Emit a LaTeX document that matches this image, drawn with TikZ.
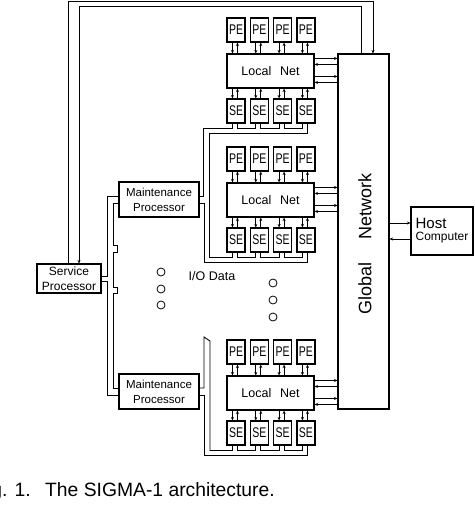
\documentclass[tikz,border=0pt]{standalone}
\usepackage{fontspec}
\setmainfont{Liberation Sans}
\newfontfamily\condfont[FakeStretch=0.75]{Liberation Sans}
\usetikzlibrary{arrows.meta,calc}
\begin{document}
\begin{tikzpicture}[x=1pt,y=-1pt,
  box/.style={draw, line width=1.1pt, inner sep=0pt},
  unit/.style={box, minimum width=18pt, minimum height=24pt, font=\condfont\fontsize{14}{14}\selectfont},
  lnet/.style={box, minimum width=87pt, minimum height=34pt, font=\fontsize{12.5}{12.5}\selectfont},
  proc/.style={box, align=center, font=\fontsize{11.5}{15}\selectfont},
  wire/.style={line width=0.85pt},
  arr/.style={wire, -{Stealth[length=3.5pt,width=3pt]}},
  dot/.style={circle, draw, line width=0.8pt, minimum size=8pt, inner sep=0pt}]
\useasboundingbox (0,0) rectangle (474,516);
\clip (0,0) rectangle (474,516);

% global network and host
\node[box, minimum width=51pt, minimum height=355pt] (gn) at (363.5,231.5) {};
\node[rotate=90, font=\fontsize{18}{18}\selectfont] (gntext) at (365,243.5) {Global\hspace{23pt}Network};
\node[box, minimum width=62pt, minimum height=48pt, align=left] (host) at (442,231)
  {{\fontsize{15}{17}\selectfont Host}\\{\fontsize{12}{14}\selectfont Computer}};
\draw[arr] ([yshift=8pt]host.west -| gn.east) -- ([yshift=8pt]host.west);
\draw[arr] ([yshift=-8pt]host.west) -- ([yshift=-8pt]host.west -| gn.east);

% processors
\node[proc, minimum width=80pt, minimum height=35pt] (mp1) at (159,199.5) {Maintenance\\Processor};
\node[proc, minimum width=80pt, minimum height=35pt] (mp2) at (159,391.5) {Maintenance\\Processor};
\node[proc, minimum width=64pt, minimum height=29pt, font=\fontsize{12}{15}\selectfont] (sp) at (69,278.5) {Service\\Processor};

% clusters
\foreach \c/\yp in {1/18, 2/147, 3/340} {
  \foreach \i in {1,...,4} {
    \pgfmathsetmacro\xl{227+23.33*(\i-1)}
    \node[unit] (pe\c\i) at (\xl+9, \yp+12) {PE};
    \node[unit] (se\c\i) at (\xl+9, \yp+93) {SE};
  }
  \node[lnet] (ln\c) at (270.5, \yp+53) {Local\hspace{0.7em}Net};
  \foreach \i in {1,...,4} {
    \draw[arr] ([xshift=6pt]pe\c\i.south west) -- ([xshift=6pt]pe\c\i.south west |- ln\c.north);
    \draw[arr] ([xshift=11pt]pe\c\i.south west |- ln\c.north) -- ([xshift=11pt]pe\c\i.south west);
    \draw[arr] ([xshift=6pt]se\c\i.north west |- ln\c.south) -- ([xshift=6pt]se\c\i.north west);
    \draw[arr] ([xshift=11pt]se\c\i.north west) -- ([xshift=11pt]se\c\i.north west |- ln\c.south);
  }
  \foreach \i/\j in {1/2, 2/3, 3/4} {
    \draw[wire] ([xshift=11pt]se\c\i.south west) -- ++(0,5) -| ([xshift=6pt]se\c\j.south west);
  }
  \draw[arr] ([yshift=-5pt]ln\c.north east) -- ([yshift=-5pt]ln\c.north east -| gn.west);
  \draw[arr] ([yshift=-11pt]ln\c.north east -| gn.west) -- ([yshift=-11pt]ln\c.north east);
  \draw[arr] ([yshift=-23pt]ln\c.north east) -- ([yshift=-23pt]ln\c.north east -| gn.west);
  \draw[arr] ([yshift=-29pt]ln\c.north east -| gn.west) -- ([yshift=-29pt]ln\c.north east);
}

% maintenance scan loops
\coordinate (c1in) at ([xshift=6pt]se11.south west);
\coordinate (c2in) at ([xshift=6pt]se21.south west);
\coordinate (c3in) at ([xshift=6pt]se31.south west);
\draw[wire] ([yshift=3.5pt]mp1.east) -| ($(c1in)+(-29,5)$) -| (c1in);
\draw[wire] ([xshift=11pt]se14.south west) -- ++(0,10) -| ($(c2in)+(-23,0)$) |- ($(c2in)+(0,5)$) -- (c2in);
\draw[wire] ([xshift=11pt]se24.south west) -- ++(0,10) -| ($(mp1.east)+(5,3.5)$) -- ([yshift=-3.5pt]mp1.east);
\draw[wire] ([yshift=3.5pt]mp2.east) -| (204,337) -- (210,341) |- ($(c3in)+(0,5)$) -- (c3in);
\draw[wire] ([xshift=11pt]se34.south west) -- ++(0,10) -| ($(mp2.east)+(5,3.5)$) -- ([yshift=-3.5pt]mp2.east);

% service processor to maintenance processors
\draw[wire] ([yshift=3.5pt]mp1.west) -| (107,276) -- ([yshift=2.5pt]sp.east);
\draw[wire] ([yshift=-2.5pt]sp.east) -| (107,395) -- ([yshift=-3.5pt]mp2.west);
\draw[wire] ([yshift=-3.5pt]mp1.west) -| (113,245) -- (117,245) -- (117,252) -- (113,252)
  -- (113,287) -- (117,287) -- (117,293) -- (113,293) |- ([yshift=3.5pt]mp2.west);

% service processor to global network
\draw[arr] ([xshift=-1pt]sp.north) -- ++(0,-262.5) -| ([xshift=9.5pt]gn.north);
\draw[arr] ([xshift=-2.5pt]gn.north) -- ++(0,-47) -| ([xshift=10pt]sp.north);

% dots and I/O label
\node[dot] (d1) at (161,272) {};
\node[dot] (d2) at (161,289) {};
\node[dot] (d3) at (161,305) {};
\node[dot] (d4) at (273,283) {};
\node[dot] (d5) at (273,300) {};
\node[dot] (d6) at (273,317) {};
\node[font=\fontsize{12.5}{12.5}\selectfont] (io) at (212,276) {I/O Data};

% caption
\node[anchor=base east, inner sep=0pt, font=\fontsize{19.3}{20}\selectfont] (figno) at (31,496) {Fig. 1.};
\node[anchor=base west, inner sep=0pt, font=\fontsize{19.3}{20}\selectfont] (cap) at (45,496) {The SIGMA-1 architecture.};
\end{tikzpicture}
\end{document}
